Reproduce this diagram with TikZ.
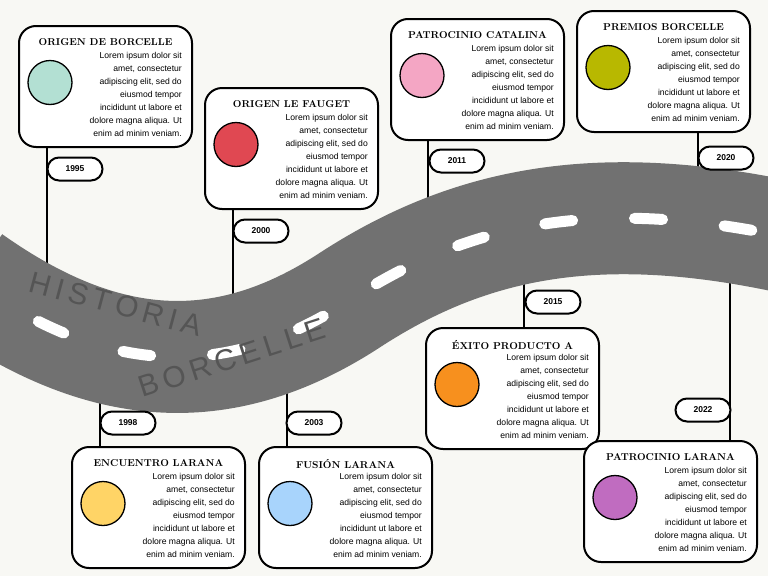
\documentclass[tikz,border=0pt]{standalone}
\usepackage{fontspec}
\setsansfont{Liberation Sans}
\usetikzlibrary{shapes.misc}
\definecolor{bg}{HTML}{F8F8F4}
\definecolor{road}{HTML}{717171}
\definecolor{roadtxt}{HTML}{555555}
\definecolor{cA}{HTML}{B3E0D3}\definecolor{cB}{HTML}{E04852}
\definecolor{cC}{HTML}{F4A6C4}\definecolor{cD}{HTML}{B8B800}
\definecolor{cE}{HTML}{FFD466}\definecolor{cF}{HTML}{A8D4FC}
\definecolor{cG}{HTML}{F7901E}\definecolor{cH}{HTML}{C06CC0}
\tikzset{
 card/.style={draw,line width=2pt,fill=white,rounded corners=17pt,minimum width=173pt,minimum height=121pt,inner sep=0pt},
 pill/.style={draw,line width=2pt,fill=white,rounded rectangle,minimum width=55pt,minimum height=23pt,inner sep=0pt,font=\sffamily\bfseries\fontsize{8.5}{10}\selectfont},
 pole/.style={line width=2pt},
 dot/.style={draw,line width=1.3pt,circle,minimum size=44pt,inner sep=0pt},
 ttl/.style={font=\bfseries\fontsize{10}{12}\selectfont,anchor=north},
 body/.style={font=\sffamily\fontsize{8.6}{13}\selectfont,align=right,anchor=north east,inner sep=0pt},
 rtxt/.style={font=\sffamily\fontsize{30}{30}\selectfont,text=roadtxt}
}
\newcommand{\lorem}{Lorem ipsum dolor sit\\amet, consectetur\\adipiscing elit, sed do\\eiusmod tempor\\incididunt ut labore et\\dolore magna aliqua. Ut\\enim ad minim veniam.}
% \mkcard{name}{left}{top}{title}{color}
\newcommand{\mkcard}[5]{%
 \node[card,anchor=north west] (#1) at (#2,#3) {};
 \node[ttl] (#1t) at ([yshift=-10pt]#1.north) {#4};
 \node[body] (#1b) at ([xshift=-11pt,yshift=-27pt]#1.north east) {\lorem};
 \node[dot,fill=#5] (#1c) at ([xshift=32pt,yshift=4pt]#1.west) {};
}
\begin{document}
\begin{tikzpicture}[x=1pt,y=-1pt]
\fill[bg] (0,0) rectangle (768,576);
\useasboundingbox (0,0) rectangle (768,576);
% pole ends
\coordinate (a1) at (47,146); \coordinate (p1) at (47,300);
\coordinate (a2) at (233,206); \coordinate (p2) at (233,300);
\coordinate (a3) at (428,137); \coordinate (p3) at (428,240);
\coordinate (a4) at (698,130); \coordinate (p4) at (698,240);
\coordinate (a5) at (100,447); \coordinate (p5) at (100,360);
\coordinate (a6) at (287,447); \coordinate (p6) at (287,360);
\coordinate (a7) at (524,328); \coordinate (p7) at (524,260);
\coordinate (a8) at (730,441); \coordinate (p8) at (730,260);
\foreach \i in {1,...,8} {\draw[pole] (a\i) -- (p\i);}
% road
\draw[road,line width=112pt] (-30,280) .. controls (100,372) and (220,385) .. (350,300) .. controls (470,222) and (600,195) .. (800,240);
\draw[white,line width=11pt,line cap=round,dash pattern=on 28pt off 62pt,dash phase=10pt] (-30,280) .. controls (100,372) and (220,385) .. (350,300) .. controls (470,222) and (600,195) .. (800,240);
\node[rtxt,rotate=-15] (h1) at (116,304) {H\,I\,S\,T\,O\,R\,I\,A};
\node[rtxt,rotate=18] (h2) at (232,358) {B\,O\,R\,C\,E\,L\,L\,E};
\mkcard{k1}{18}{25}{ORIGEN DE BORCELLE}{cA}
\mkcard{k2}{204}{87}{ORIGEN LE FAUGET}{cB}
\mkcard{k3}{390}{18}{PATROCINIO CATALINA}{cC}
\mkcard{k4}{576}{10}{PREMIOS BORCELLE}{cD}
\mkcard{k5}{71}{446}{ENCUENTRO LARANA}{cE}
\mkcard{k6}{258}{446}{FUSIÓN LARANA}{cF}
\mkcard{k7}{425}{327}{ÉXITO PRODUCTO A}{cG}
\mkcard{k8}{583}{440}{PATROCINIO LARANA}{cH}
% years
\node[pill] (y1) at (75,169) {1995};
\node[pill] (y2) at (261,231) {2000};
\node[pill] (y3) at (457,161) {2011};
\node[pill] (y4) at (726,158) {2020};
\node[pill] (y5) at (128,423) {1998};
\node[pill] (y6) at (314,423) {2003};
\node[pill] (y7) at (553,302) {2015};
\node[pill] (y8) at (703,410) {2022};
\end{tikzpicture}
\end{document}
